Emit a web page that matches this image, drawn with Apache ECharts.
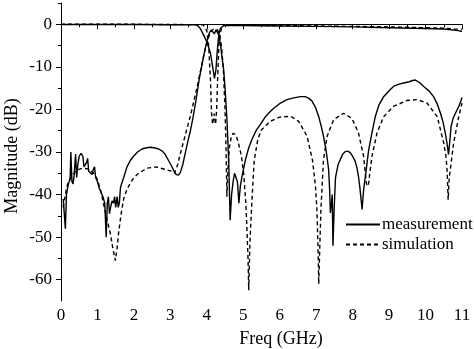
<!DOCTYPE html>
<html>
<head>
<meta charset="utf-8">
<script src="https://cdn.jsdelivr.net/npm/echarts@6/dist/echarts.min.js"></script>
<style>
  html, body { margin: 0; padding: 0; background: #fff; }
  #chart { width: 474px; height: 349px; }
</style>
</head>
<body>
<div id="chart"></div>
<script>
// Filter response: S11 (near 0 dB out of band) and S21 (passband around 4.2 GHz)
const s11MeasFreq = [0, 1, 2, 3, 3.7, 3.76, 3.82, 3.91, 4.0, 4.1, 4.17, 4.21, 4.25, 4.28, 4.3, 4.33, 4.37, 4.46, 5, 6, 7, 8, 9, 10, 10.5, 10.7, 10.9, 11];
const s11MeasDb   = [-0.05, -0.05, -0.05, -0.1, -0.15, -0.4, -1, -2.5, -4.1, -6.8, -10.5, -12.7, -10.7, -7, -5, -2.5, -1, -0.3, -0.3, -0.4, -0.5, -0.6, -0.8, -1.0, -1.1, -1.3, -1.5, -1.7];

const s11SimFreq = [0, 1, 2, 3, 3.9, 3.95, 4.0, 4.05, 4.1, 4.13, 4.16, 4.2, 4.24, 4.27, 4.3, 4.33, 4.37, 4.42, 4.5, 5, 6, 7, 8, 9, 10, 10.5, 10.8, 11];
const s11SimDb   = [0, 0, 0, -0.05, -0.1, -0.4, -1.5, -5, -13, -21, -23.5, -21, -23.5, -20, -12, -5, -2, -0.5, -0.2, -0.2, -0.3, -0.4, -0.5, -0.6, -0.8, -0.9, -1.1, -1.2];

const s21MeasFreq = [0.06, 0.09, 0.12, 0.15, 0.18, 0.22, 0.25, 0.27, 0.3, 0.33, 0.36, 0.4, 0.43, 0.46, 0.5, 0.55, 0.6, 0.63, 0.66, 0.7, 0.73, 0.76, 0.8, 0.85, 0.89, 0.92, 0.95, 1.0, 1.05, 1.1, 1.15, 1.2, 1.24, 1.27, 1.3, 1.33, 1.36, 1.4, 1.44, 1.47, 1.5, 1.54, 1.57, 1.6, 1.63, 1.66, 1.72, 1.81, 1.9, 1.99, 2.1, 2.22, 2.35, 2.45, 2.55, 2.68, 2.78, 2.86, 2.95, 3.04, 3.1, 3.16, 3.22, 3.27, 3.34, 3.41, 3.48, 3.55, 3.62, 3.7, 3.8, 3.9, 4.0, 4.07, 4.12, 4.17, 4.21, 4.25, 4.29, 4.33, 4.38, 4.42, 4.46, 4.5, 4.55, 4.6, 4.64, 4.68, 4.72, 4.76, 4.8, 4.84, 4.88, 4.92, 4.97, 5.06, 5.15, 5.24, 5.35, 5.47, 5.6, 5.74, 5.83, 6.02, 6.2, 6.38, 6.57, 6.7, 6.8, 6.89, 6.98, 7.07, 7.14, 7.2, 7.27, 7.34, 7.37, 7.39, 7.42, 7.44, 7.46, 7.49, 7.53, 7.6, 7.66, 7.73, 7.8, 7.87, 7.94, 8.0, 8.07, 8.12, 8.16, 8.2, 8.23, 8.26, 8.3, 8.35, 8.44, 8.53, 8.62, 8.72, 8.85, 9.0, 9.12, 9.25, 9.4, 9.55, 9.65, 9.72, 9.8, 9.88, 9.95, 10.1, 10.22, 10.32, 10.41, 10.48, 10.54, 10.59, 10.63, 10.66, 10.7, 10.76, 10.82, 10.91, 10.97, 11.0];
const s21MeasDb   = [-41, -41, -48, -40, -38.5, -37, -36.5, -30, -37, -37.5, -35.5, -30.5, -36, -33, -31, -30.3, -31, -33.5, -33.5, -32.5, -31.5, -34.5, -34.5, -35.3, -34, -33.5, -36, -37, -38.5, -39.5, -40.5, -42, -50, -42, -40.5, -44.5, -43, -41.5, -42, -40.5, -43, -40.5, -43, -42, -38.5, -37.5, -36, -33.5, -32, -31, -30, -29.3, -29, -28.9, -29, -29.3, -29.8, -30.6, -32, -33.4, -34.5, -35.3, -35.4, -34.9, -33, -30.2, -27.5, -25, -22, -18, -12.5, -8, -4, -2, -1.4, -1.6, -2.2, -1.3, -1.2, -2.5, -5, -8, -10.5, -15, -22, -32, -46, -40, -37, -35, -34.8, -37, -42, -38, -35.5, -31.8, -29, -27, -25, -23.5, -21.8, -20.5, -19.8, -18.5, -17.7, -17.3, -17, -17, -17.4, -18.1, -19.5, -21.7, -24, -26.3, -29.5, -34, -39, -44.3, -42, -40, -52, -44, -36, -33, -31.8, -30.5, -29.9, -29.8, -30.2, -31, -32.2, -33.8, -35.7, -38.5, -41, -43.5, -39, -35.7, -29.5, -25.5, -21.7, -19, -17, -15.6, -14.6, -14.1, -13.8, -13.5, -13.2, -13.1, -13.5, -14, -14.6, -15.7, -17, -18.7, -20.9, -23, -25.5, -28, -30.6, -28, -24, -22, -20.9, -19.3, -18, -17.2];

const s21SimFreq = [0.06, 0.1, 0.15, 0.2, 0.3, 0.45, 0.6, 0.75, 0.9, 1.0, 1.1, 1.2, 1.28, 1.35, 1.42, 1.49, 1.54, 1.58, 1.65, 1.72, 1.8, 1.9, 2.0, 2.13, 2.36, 2.6, 2.82, 3.04, 3.11, 3.2, 3.27, 3.41, 3.55, 3.7, 3.85, 3.95, 4.05, 4.12, 4.18, 4.22, 4.28, 4.34, 4.4, 4.45, 4.5, 4.53, 4.55, 4.58, 4.62, 4.67, 4.72, 4.8, 4.87, 4.95, 5.01, 5.07, 5.1, 5.13, 5.15, 5.18, 5.2, 5.24, 5.3, 5.4, 5.5, 5.74, 6.0, 6.3, 6.52, 6.75, 6.9, 6.98, 7.02, 7.05, 7.07, 7.1, 7.13, 7.2, 7.3, 7.48, 7.75, 7.98, 8.16, 8.3, 8.38, 8.43, 8.47, 8.53, 8.67, 8.85, 9.12, 9.49, 9.77, 10.04, 10.32, 10.5, 10.56, 10.59, 10.62, 10.65, 10.68, 10.77, 10.91, 11.0];
const s21SimDb   = [-43, -41, -38.5, -37, -35.5, -34.2, -33.8, -34, -35, -36.5, -39.5, -43.5, -46.5, -49, -52.5, -55.5, -52.5, -49, -44.5, -41, -39, -37.3, -36, -35, -33.8, -33.5, -34, -34.5, -35, -33, -30.5, -26, -21.5, -16, -10, -6, -3, -1.5, -1.2, -1.5, -1.2, -2, -5, -10, -20, -30, -40.5, -34, -29, -26.5, -25.6, -26, -28, -31, -35, -42, -48, -55, -62.5, -52, -48, -41, -32, -27, -24.8, -22.8, -21.8, -21.6, -22.8, -26.3, -32, -38, -43.5, -52, -61, -52, -43.5, -31.8, -26.3, -22.4, -20.9, -22.1, -25.5, -31, -37.5, -38, -35, -31, -25.5, -21.7, -19.3, -17.9, -17.7, -18.5, -21.7, -27.9, -31, -34.1, -41.2, -36, -34.1, -27.9, -21.7, -18.5];

// Tick positions on the magnitude axis
const yMajorTicks = [0, -10, -20, -30, -40, -50, -60];
const yMinorTicks = [5, -5, -15, -25, -35, -45, -55];

const pairs = (xs, ys) => xs.map((x, i) => [x, ys[i]]);

const serif = 'Liberation Serif, Times New Roman, serif';
const solid = { color: '#000', width: 1.4, type: 'solid' };
const dashed = { color: '#000', width: 1.4, type: [4, 3] };

const chart = echarts.init(document.getElementById('chart'));
chart.setOption({
  animation: false,
  backgroundColor: '#fff',
  grid: { left: 61, right: 12, top: 3, bottom: 48, containLabel: false, outerBoundsMode: 'none' },
  legend: {
    orient: 'vertical',
    left: 345,
    top: 216,
    padding: 0,
    itemWidth: 34,
    itemHeight: 12,
    itemGap: 3,
    itemStyle: { opacity: 0 },
    data: ['measurement', 'simulation'],
    textStyle: { fontFamily: serif, fontSize: 17, color: '#000', padding: [0, 0, 0, -3] }
  },
  xAxis: {
    type: 'value',
    min: 0,
    max: 11,
    interval: 1,
    name: 'Freq (GHz)',
    nameLocation: 'middle',
    nameGap: 29,
    nameMoveOverlap: false,
    nameTextStyle: { fontFamily: serif, fontSize: 18, color: '#000', padding: [0, 0, 0, 39] },
    axisLine: { lineStyle: { color: '#000', width: 1 } },
    axisTick: { length: 5, lineStyle: { color: '#000' } },
    minorTick: { show: true, splitNumber: 2, length: 3, lineStyle: { color: '#000' } },
    axisLabel: { fontFamily: serif, fontSize: 17, color: '#000', margin: 6 },
    splitLine: { show: false }
  },
  yAxis: [
    {
      type: 'value',
      min: -65,
      max: 5,
      name: 'Magnitude (dB)',
      nameLocation: 'middle',
      nameGap: 40,
      nameMoveOverlap: false,
      nameTextStyle: { fontFamily: serif, fontSize: 18, color: '#000', padding: [0, 8, 0, 0] },
      axisLine: { show: true, lineStyle: { color: '#000', width: 1 } },
      axisTick: { show: true, length: 5, customValues: yMajorTicks, lineStyle: { color: '#000' } },
      axisLabel: { fontFamily: serif, fontSize: 17, color: '#000', margin: 9, customValues: yMajorTicks, formatter: v => String(v) },
      splitLine: { show: false }
    },
    {
      type: 'value',
      min: -65,
      max: 5,
      position: 'left',
      axisLine: { show: false },
      axisTick: { show: true, length: 3, customValues: yMinorTicks, lineStyle: { color: '#000' } },
      axisLabel: { show: false },
      splitLine: { show: false }
    }
  ],
  series: [
    { name: 'measurement', type: 'line', data: pairs(s21MeasFreq, s21MeasDb), symbol: 'none', lineStyle: solid, itemStyle: { color: '#000' } },
    { name: 'simulation', type: 'line', data: pairs(s21SimFreq, s21SimDb), symbol: 'none', lineStyle: dashed, itemStyle: { color: '#000' } },
    { name: 'measurement', type: 'line', data: pairs(s11MeasFreq, s11MeasDb), symbol: 'none', lineStyle: solid, itemStyle: { color: '#000' } },
    { name: 'simulation', type: 'line', data: pairs(s11SimFreq, s11SimDb), symbol: 'none', lineStyle: dashed, itemStyle: { color: '#000' } }
  ]
});
</script>
</body>
</html>
